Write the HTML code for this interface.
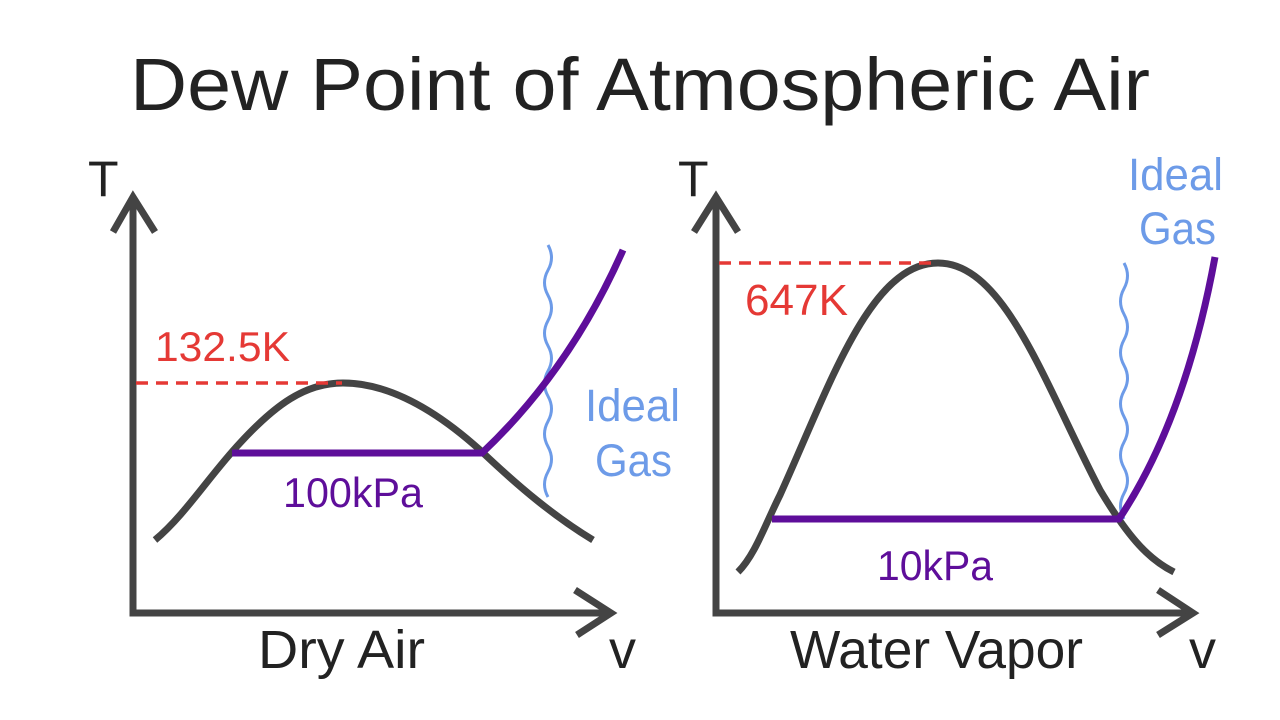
<!DOCTYPE html>
<html><head><meta charset="utf-8"><style>
html,body{margin:0;padding:0;background:#fff;}
svg{display:block;}
text{font-family:"Liberation Sans",sans-serif;}
</style></head><body>
<svg width="1280" height="720" viewBox="0 0 1280 720">
<text x="130" y="110" font-size="74" textLength="1020" lengthAdjust="spacingAndGlyphs" fill="#222">Dew Point of Atmospheric Air</text>

<!-- Left chart -->
<g fill="none" stroke="#444" stroke-width="7" stroke-linecap="butt">
<path d="M133,196 V613 H612"/>
<path d="M113,232 L133,197 L155,232" stroke-linejoin="miter"/>
<path d="M575,590 L611,613 L577,635" stroke-linejoin="miter"/>
<path d="M155,540 C185,515 210,475 240,443 C275,405 305,383 343,383 C385,383 430,405 480,450 C520,488 555,517 593,540"/>
</g>
<line x1="136" y1="383" x2="342" y2="383" stroke="#e53935" stroke-width="3.5" stroke-dasharray="12,8"/>
<path d="M548,245 q7,12.6 0,25.2 t0,25.2 t0,25.2 t0,25.2 t0,25.2 t0,25.2 t0,25.2 t0,25.2 t0,25.2 t0,25.2" fill="none" stroke="#6d9be8" stroke-width="3"/>
<path d="M232,453 H482 Q570,370 623,250" fill="none" stroke="#5e0e9a" stroke-width="7"/>
<text x="88" y="196" font-size="50" fill="#222">T</text>
<text x="155" y="361" font-size="42" textLength="135" lengthAdjust="spacingAndGlyphs" fill="#e53935">132.5K</text>
<text x="283" y="507" font-size="42" textLength="140" lengthAdjust="spacingAndGlyphs" fill="#5e0e9a">100kPa</text>
<text x="585" y="421" font-size="45" textLength="95" lengthAdjust="spacingAndGlyphs" fill="#6d9be8">Ideal</text>
<text x="595" y="476" font-size="45" textLength="77" lengthAdjust="spacingAndGlyphs" fill="#6d9be8">Gas</text>
<text x="258" y="668" font-size="54" textLength="167" lengthAdjust="spacingAndGlyphs" fill="#222">Dry Air</text>
<text x="609" y="668" font-size="54" fill="#222">v</text>

<!-- Right chart -->
<g fill="none" stroke="#444" stroke-width="7">
<path d="M716,196 V613 H1193"/>
<path d="M694,232 L716,197 L738,232"/>
<path d="M1158,590 L1193,613 L1158,635"/>
<path d="M738,572 C755,555 765,525 780,495 C830,385 870,263 938,263 C1005,263 1045,385 1100,490 C1130,540 1150,560 1174,572"/>
</g>
<line x1="719" y1="263" x2="938" y2="263" stroke="#e53935" stroke-width="3.5" stroke-dasharray="12,8"/>
<path d="M1124,263 q7,12.8 0,25.6 t0,25.6 t0,25.6 t0,25.6 t0,25.6 t0,25.6 t0,25.6 t0,25.6 t0,25.6 t0,25.6" fill="none" stroke="#6d9be8" stroke-width="3"/>
<path d="M772,519 H1119 Q1185,420 1215,257" fill="none" stroke="#5e0e9a" stroke-width="7"/>
<text x="678" y="196" font-size="50" fill="#222">T</text>
<text x="745" y="315" font-size="44" textLength="103" lengthAdjust="spacingAndGlyphs" fill="#e53935">647K</text>
<text x="877" y="580" font-size="42" textLength="116" lengthAdjust="spacingAndGlyphs" fill="#5e0e9a">10kPa</text>
<text x="1128" y="190" font-size="45" textLength="95" lengthAdjust="spacingAndGlyphs" fill="#6d9be8">Ideal</text>
<text x="1139" y="244" font-size="45" textLength="77" lengthAdjust="spacingAndGlyphs" fill="#6d9be8">Gas</text>
<text x="790" y="668" font-size="54" textLength="293" lengthAdjust="spacingAndGlyphs" fill="#222">Water Vapor</text>
<text x="1189" y="668" font-size="54" fill="#222">v</text>
</svg>
</body></html>
